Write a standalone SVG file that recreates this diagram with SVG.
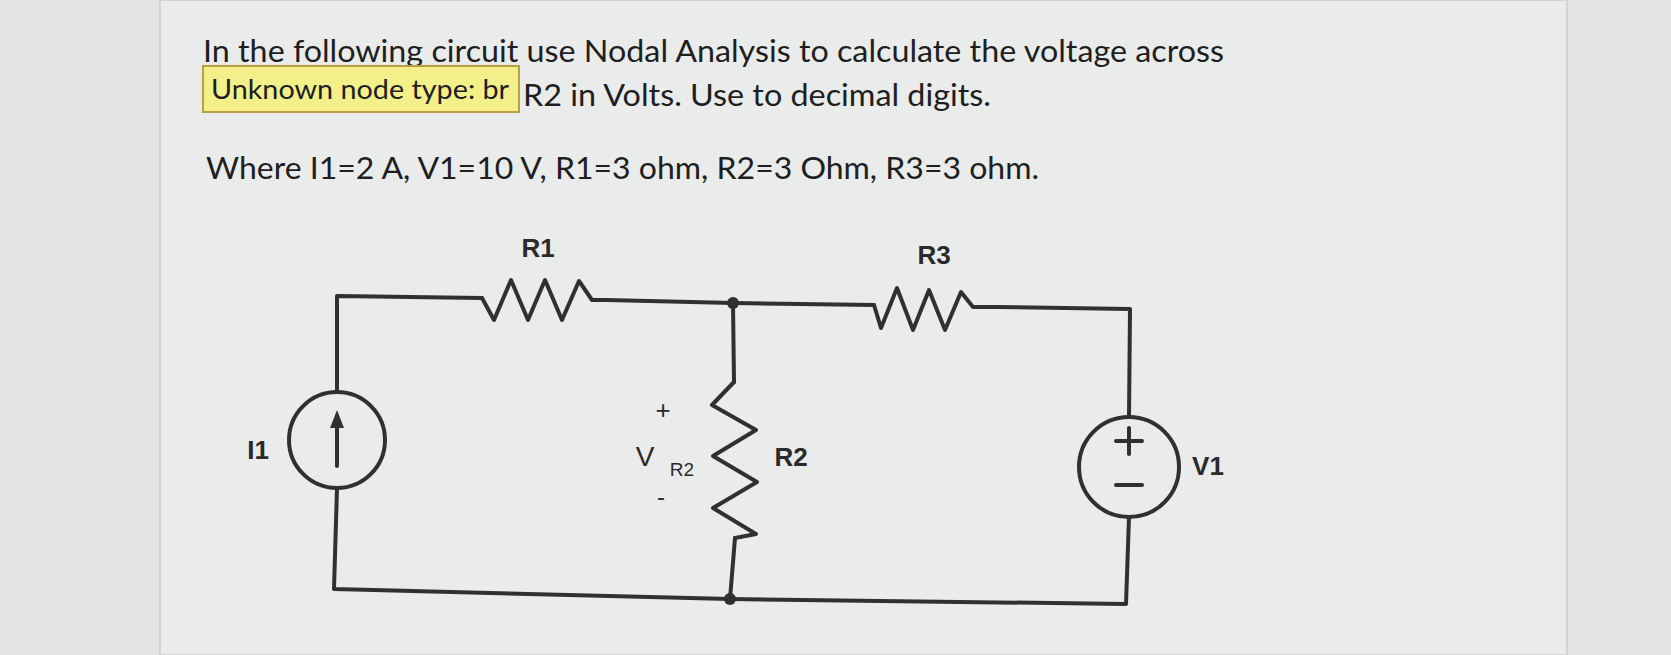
<svg xmlns="http://www.w3.org/2000/svg" width="1671" height="655" viewBox="0 0 1671 655">
<style>
.q{font-family:Lato,"Noto Sans",sans-serif;font-size:31px;fill:#1e1e1e}
.l{font-family:"Liberation Sans",Arial,sans-serif;font-weight:bold;font-size:26px;fill:#2a2a2a}
.s{font-family:"Liberation Sans",Arial,sans-serif;fill:#2a2a2a}
.w{fill:none;stroke:#303030;stroke-width:4;stroke-linejoin:round;stroke-linecap:round}
</style>
<rect width="1671" height="655" fill="#e2e3e3"/>
<rect x="160" y="0" width="1407" height="655" fill="#eaebeb" stroke="#d2d3d3" stroke-width="2"/>
<g id="question">
<text class="q" x="203" y="62" textLength="1021" lengthAdjust="spacingAndGlyphs">In the following circuit use Nodal Analysis to calculate the voltage across</text>
<rect x="203" y="66" width="316" height="46" fill="#f3f08a" stroke="#b8a040" stroke-width="2"/>
<text class="q" x="211" y="99" style="font-size:27px" textLength="298" lengthAdjust="spacingAndGlyphs">Unknown node type: br</text>
<text class="q" x="523" y="106" textLength="468" lengthAdjust="spacingAndGlyphs">R2 in Volts.  Use to decimal digits.</text>
<text class="q" x="206" y="179" textLength="833" lengthAdjust="spacingAndGlyphs">Where I1=2 A, V1=10 V, R1=3 ohm, R2=3 Ohm, R3=3 ohm.</text>
</g>
<g id="connectors">
<polyline class="w" points="482,298 337,296 337,392"/>
<polyline class="w" points="337,488 334,589 730,599 1126,604 1129,517"/>
<polyline class="w" points="606,300 733,303 874,305"/>
<polyline class="w" points="997,307 1130,309 1129,417"/>
<polyline class="w" points="733,303 734,382"/>
<polyline class="w" points="735,538 730,599"/>
<circle cx="733" cy="303" r="6" fill="#303030"/>
<circle cx="730" cy="599" r="6" fill="#303030"/>
</g>
<g id="R1">
<polyline class="w" points="482,298 494,320 511,280 528,320 545,280 562,320 579,281 592,300 606,300"/>
<text class="l" x="538" y="257" text-anchor="middle">R1</text>
</g>
<g id="R3">
<polyline class="w" points="874,305 881,328 897,288 913,330 929,290 945,330 961,292 973,307 997,307"/>
<text class="l" x="934" y="264" text-anchor="middle">R3</text>
</g>
<g id="R2">
<polyline class="w" points="734,382 712,405 756,430 713,456 757,482 713,508 756,534 735,538"/>
<text class="l" x="791" y="466" text-anchor="middle">R2</text>
<text class="s" x="663" y="419" text-anchor="middle" style="font-size:26px">+</text>
<text class="s" x="645" y="466" text-anchor="middle" style="font-size:28px">V</text>
<text class="s" x="682" y="476" text-anchor="middle" style="font-size:19px">R2</text>
<text class="s" x="661" y="505" text-anchor="middle" style="font-size:24px">-</text>
</g>
<g id="I1">
<circle class="w" cx="337" cy="440" r="48"/>
<line class="w" x1="337" y1="466" x2="337" y2="420"/>
<polygon points="337,410 330,428 344,428" fill="#303030"/>
<text class="l" x="258" y="459" text-anchor="middle">I1</text>
</g>
<g id="V1">
<circle class="w" cx="1129" cy="467" r="50"/>
<line class="w" x1="1116" y1="441" x2="1142" y2="441"/>
<line class="w" x1="1129" y1="428" x2="1129" y2="454"/>
<line class="w" x1="1116" y1="485" x2="1142" y2="485"/>
<text class="l" x="1208" y="475" text-anchor="middle">V1</text>
</g>
</svg>
